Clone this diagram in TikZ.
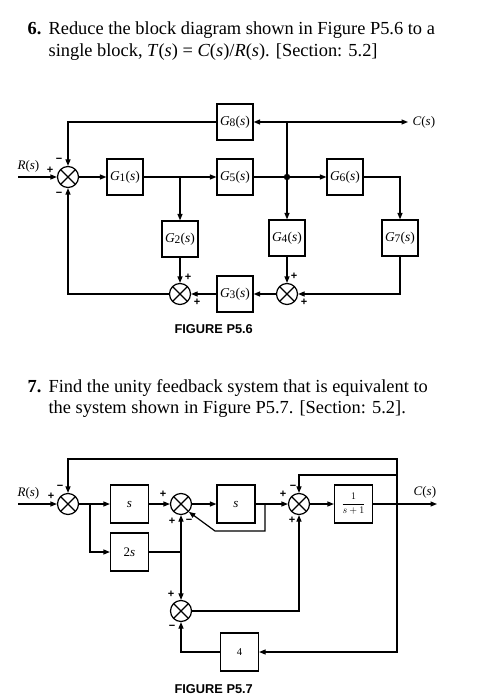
\documentclass[tikz,border=0pt]{standalone}
\usepackage{fontspec}
\setmainfont{Liberation Serif}
\newfontfamily\figfont{Liberation Sans}
\usetikzlibrary{arrows.meta,calc}
\newcommand{\Gb}[1]{\textit{G}\kern-0.3pt\raisebox{-1.3pt}{\fontsize{11.5}{11.5}\selectfont #1}\kern0.2pt(\textit{s})}
\begin{document}
\begin{tikzpicture}[x=1pt,y=-1pt,line width=1.2pt,
  blk/.style={draw,minimum width=36pt,minimum height=36pt,inner sep=0pt,font=\fontsize{13.5}{14}\selectfont},
  blkb/.style={draw,minimum width=38pt,minimum height=38pt,inner sep=0pt,font=\fontsize{13}{13}\selectfont},
  sumj/.style={draw,circle,minimum size=21pt,inner sep=0pt,
     path picture={\draw (path picture bounding box.north west)--(path picture bounding box.south east)
                         (path picture bounding box.north east)--(path picture bounding box.south west);}},
  arr/.style={-{Triangle[length=6.5pt,width=5pt]}},
  sgn/.style={inner sep=0pt,font=\figfont\bfseries\fontsize{11}{11}\selectfont},
  lbl/.style={inner sep=0pt,font=\fontsize{13}{13}\selectfont},
  txt/.style={inner sep=0pt,anchor=base west,font=\fontsize{18.4}{20}\selectfont},
  figcap/.style={inner sep=0pt,anchor=west,font=\figfont\bfseries\fontsize{12.8}{13}\selectfont}]
\useasboundingbox (0,0) rectangle (501,700);
\fill[white] (0,0) rectangle (501,700);

% ---------- Problem 6 text
\node[txt] (n6) at (27,35) {\textbf{6.}};
\node[txt] (t6a) at (48,35) {Reduce the block diagram shown in Figure P5.6 to a};
\node[txt] (t6b) at (48,57) {single block, \textit{T}(\textit{s}) = \textit{C}(\textit{s})/\textit{R}(\textit{s}). [Section: 5.2]};

% ---------- Figure P5.6
\node[sumj] (s1) at (68,177) {};
\node[blk] (g1) at (125,177) {\Gb{1}};
\node[blk] (g5) at (235,177) {\Gb{5}};
\node[blk] (g8) at (235,122) {\Gb{8}};
\node[blk] (g6) at (345,177) {\Gb{6}};
\node[blk] (g2) at (180,239) {\Gb{2}};
\node[blk] (g4) at (287,238) {\Gb{4}};
\node[blk] (g7) at (400,238) {\Gb{7}};
\node[blk] (g3) at (235,294) {\Gb{3}};
\node[sumj] (s2) at (180,294) {};
\node[sumj] (s3) at (287,294) {};
\coordinate (rin) at (18,177);
\coordinate (b1) at (180,177);
\coordinate (j) at (287,177);
\coordinate (ctop) at (287,122);
\coordinate (cout) at (408,122);
\node[lbl,anchor=south west] (Rl) at (17,173) {\textit{R}(\textit{s})};
\node[lbl,anchor=west] (Cl) at (412,122) {\textit{C}(\textit{s})};

\draw[arr] (rin) -- (s1);
\draw[arr] (s1) -- (g1);
\draw[arr] (g1) -- (g5);
\draw[arr] (g5) -- (g6);
\fill (j) circle (3.2pt);
\draw[arr] (ctop) -- (cout);
\draw[arr] (ctop) -- (g8);
\draw (ctop) -- (j);
\draw[arr] (j) -- (g4);
\draw[arr] (g8) -| (s1);
\draw[arr] (b1) -- (g2);
\draw[arr] (g2) -- (s2);
\draw[arr] (g4) -- (s3);
\draw[arr] (g6) -| (g7);
\draw[arr] (g7) |- (s3);
\draw[arr] (s3) -- (g3);
\draw[arr] (g3) -- (s2);
\draw[arr] (s2) -| (s1);

\node[sgn] (p1) at (50,170) {+};
\node[sgn] (m1) at (59,160) {−};
\node[sgn] (m2) at (59,194) {−};
\node[sgn] (p2) at (188,277) {+};
\node[sgn] (p3) at (197,302) {+};
\node[sgn] (p4) at (294,276) {+};
\node[sgn] (p5) at (304,302) {+};

\node[figcap] (f56) at (174,329) {FIGURE P5.6};

% ---------- Problem 7 text
\node[txt] (n7) at (27,392) {\textbf{7.}};
\node[txt] (t7a) at (48,392) {Find the unity feedback system that is equivalent to};
\node[txt] (t7b) at (48,413) {the system shown in Figure P5.7. [Section: 5.2].};

% ---------- Figure P5.7
\node[sumj] (t1) at (68,504) {};
\node[blkb] (bs1) at (129.5,504) {\textit{s}};
\node[blkb] (b2s) at (129.5,552) {2\textit{s}};
\node[sumj] (t2) at (181,504) {};
\node[blkb] (bs2) at (236,504) {\textit{s}};
\node[sumj] (t3) at (299,504) {};
\node[blkb] (bf) at (353.5,504) {\fontsize{10}{10}\selectfont$\displaystyle\frac{1}{s+1}$};
\node[sumj] (t4) at (181,611) {};
\node[blkb] (b4) at (239.5,652) {\fontsize{10.5}{10.5}\selectfont 4};
\coordinate (rin2) at (18,504);
\coordinate (br1) at (90,504);
\coordinate (br2) at (265,504);
\coordinate (d1) at (265,531);
\coordinate (d2) at (215,531);
\coordinate (k) at (397,504);
\coordinate (ktop) at (397,459);
\coordinate (kmid) at (397,475);
\coordinate (v2) at (181,552);
\coordinate (cout2) at (437,504);
\node[lbl,anchor=south west] (Rl2) at (17,500) {\textit{R}(\textit{s})};
\node[lbl,anchor=south west] (Cl2) at (413,499) {\textit{C}(\textit{s})};

\draw[arr] (rin2) -- (t1);
\draw[arr] (t1) -- (bs1);
\draw[arr] (br1) |- (b2s);
\draw[arr] (bs1) -- (t2);
\draw[arr] (t2) -- (bs2);
\draw[arr] (bs2) -- (t3);
\draw[arr] (br2) -- (d1) -- (d2) -- (t2.-45);
\draw[arr] (t3) -- (bf);
\draw[arr] (bf) -- (cout2);
\draw[arr] (k) -- (ktop) -| (t1);
\draw[arr] (kmid) -| (t3);
\draw[arr] (k) |- (b4);
\draw[arr] (b4) -| (t4);
\draw[arr] (b2s) -| (t2);
\draw[arr] (v2) -- (t4);
\draw[arr] (t4) -| (t3);

\node[sgn] (q1) at (51,496) {+};
\node[sgn] (q2) at (60,487) {−};
\node[sgn] (q3) at (163,494) {+};
\node[sgn] (q4) at (172,521) {+};
\node[sgn] (q5) at (189,521) {−};
\node[sgn] (q6) at (283,494) {+};
\node[sgn] (q7) at (293,487) {−};
\node[sgn] (q8) at (292,520) {+};
\node[sgn] (q9) at (171,594) {+};
\node[sgn] (q10) at (172,627) {−};

\node[figcap] (f57) at (174,689) {FIGURE P5.7};
\end{tikzpicture}
\end{document}
